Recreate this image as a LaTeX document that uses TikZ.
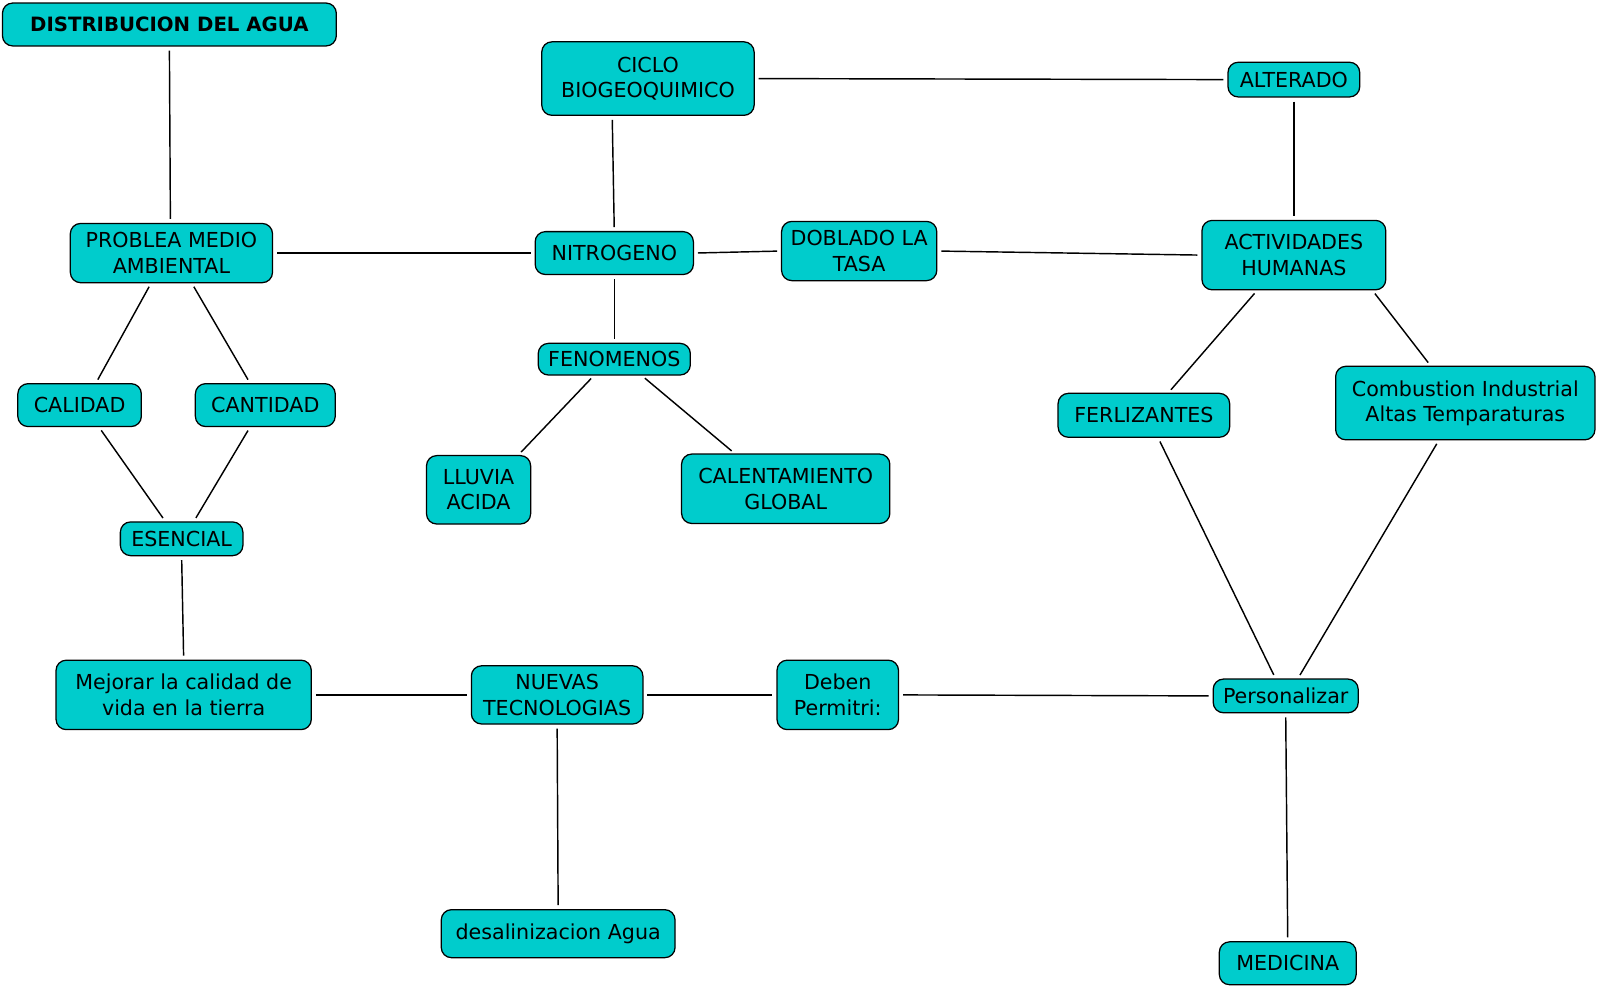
\documentclass[tikz,border=0pt]{standalone}
\usepackage{fontspec}
\setmainfont{DejaVu Sans}
\begin{document}
\begin{tikzpicture}[x=0.01cm,y=-0.01cm,
 box/.style={draw=black,line width=0.35pt,fill=boxc,rounded corners=0.1cm,inner sep=0pt,align=center,font=\fontsize{5.75}{7.1}\selectfont},
 ln/.style={line width=0.4pt,shorten >=1.1pt,shorten <=1.1pt}]
\definecolor{boxc}{RGB}{0,204,204}
\useasboundingbox (0,0) rectangle (1568,969);
\node[box,minimum width=3.27cm,minimum height=0.42cm,font=\fontsize{5.5}{7.1}\selectfont\bfseries] (title) at (166,24) {DISTRIBUCION DEL AGUA};
\node[box,minimum width=2.08cm,minimum height=0.72cm] (ciclo) at (635,77) {CICLO\\BIOGEOQUIMICO};
\node[box,minimum width=1.29cm,minimum height=0.34cm] (alt) at (1268,78) {ALTERADO};
\node[box,minimum width=1.98cm,minimum height=0.58cm] (prob) at (168,248) {PROBLEA MEDIO\\AMBIENTAL};
\node[box,minimum width=1.55cm,minimum height=0.42cm] (nit) at (602,248) {NITROGENO};
\node[box,minimum width=1.52cm,minimum height=0.58cm] (dob) at (842,246) {DOBLADO LA\\TASA};
\node[box,minimum width=1.80cm,minimum height=0.68cm] (act) at (1268,250) {ACTIVIDADES\\HUMANAS};
\node[box,minimum width=1.49cm,minimum height=0.31cm] (fen) at (602,352) {FENOMENOS};
\node[box,minimum width=1.21cm,minimum height=0.42cm] (cal) at (78,397) {CALIDAD};
\node[box,minimum width=1.37cm,minimum height=0.42cm] (can) at (260,397) {CANTIDAD};
\node[box,minimum width=1.68cm,minimum height=0.43cm] (fer) at (1121,407) {FERLIZANTES};
\node[box,minimum width=2.54cm,minimum height=0.72cm] (comb) at (1436,395) {Combustion Industrial\\Altas Temparaturas};
\node[box,minimum width=1.02cm,minimum height=0.67cm] (llu) at (469,480) {LLUVIA\\ACIDA};
\node[box,minimum width=2.04cm,minimum height=0.68cm] (calen) at (770,479) {CALENTAMIENTO\\GLOBAL};
\node[box,minimum width=1.20cm,minimum height=0.33cm] (ese) at (178,528) {ESENCIAL};
\node[box,minimum width=2.50cm,minimum height=0.68cm] (mej) at (180,681) {Mejorar la calidad de\\vida en la tierra};
\node[box,minimum width=1.68cm,minimum height=0.57cm] (nue) at (546,681) {NUEVAS\\TECNOLOGIAS};
\node[box,minimum width=1.19cm,minimum height=0.68cm] (deb) at (821,681) {Deben\\Permitri:};
\node[box,minimum width=1.42cm,minimum height=0.33cm] (per) at (1260,682) {Personalizar};
\node[box,minimum width=2.29cm,minimum height=0.47cm] (des) at (547,915) {desalinizacion Agua};
\node[box,minimum width=1.34cm,minimum height=0.42cm] (med) at (1262,944) {MEDICINA};

\draw[ln] (title.south) -- ([xshift=-0.01cm]prob.north);
\draw[ln] (ciclo.east) -- (alt.west);
\draw[ln] ([xshift=-0.35cm]ciclo.south) -- (nit.north);
\draw[ln] (alt.south) -- (act.north);
\draw[ln] (prob.east) -- (nit.west);
\draw[ln] (nit.east) -- (dob.west);
\draw[ln] (dob.east) -- (act.west);
\draw[ln] (nit.south) -- (fen.north);
\draw[ln] ([xshift=-0.2cm]fen.south) -- ([xshift=0.39cm]llu.north);
\draw[ln] ([xshift=0.27cm]fen.south) -- ([xshift=-0.5cm]calen.north);
\draw[ln] ([xshift=-0.2cm]prob.south) -- ([xshift=0.16cm]cal.north);
\draw[ln] ([xshift=0.2cm]prob.south) -- ([xshift=-0.15cm]can.north);
\draw[ln] ([xshift=0.19cm]cal.south) -- ([xshift=-0.16cm]ese.north);
\draw[ln] ([xshift=-0.15cm]can.south) -- ([xshift=0.12cm]ese.north);
\draw[ln] (ese.south) -- (mej.north);
\draw[ln] (mej.east) -- (nue.west);
\draw[ln] (nue.east) -- (deb.west);
\draw[ln] (deb.east) -- (per.west);
\draw[ln] (nue.south) -- (des.north);
\draw[ln] ([xshift=-0.36cm]act.south) -- ([xshift=0.24cm]fer.north);
\draw[ln] ([xshift=0.77cm]act.south) -- ([xshift=-0.34cm]comb.north);
\draw[ln] ([xshift=0.14cm]fer.south) -- ([xshift=-0.1cm]per.north);
\draw[ln] ([xshift=-0.26cm]comb.south) -- ([xshift=0.12cm]per.north);
\draw[ln] (per.south) -- (med.north);
\end{tikzpicture}
\end{document}
